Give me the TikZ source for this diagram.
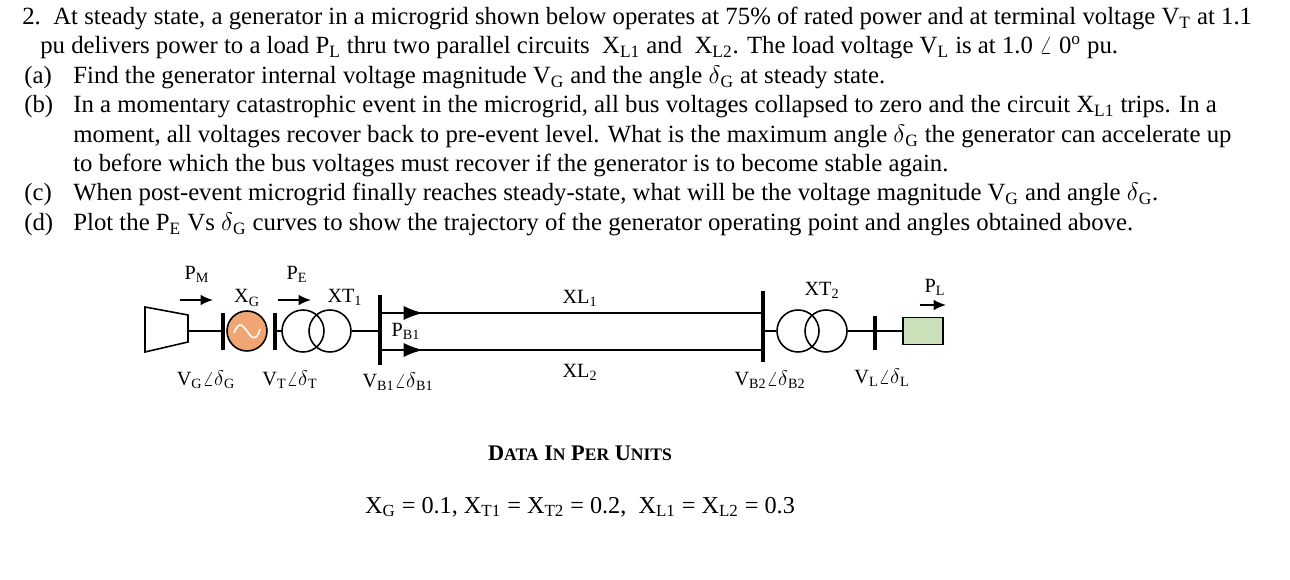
\documentclass[tikz,border=0pt]{standalone}
\usepackage{fontspec}
\setmainfont{Liberation Serif}
\usetikzlibrary{arrows.meta}
\newcommand{\sbs}[1]{\textsubscript{#1}}
\newcommand{\ang}{$\angle$}
\newcommand{\dl}{$\delta$}
\begin{document}
\begin{tikzpicture}[x=0.02cm,y=-0.02cm,
  txt/.style={anchor=base west,inner sep=0,font=\fontsize{14.1}{16}\selectfont},
  lab/.style={inner sep=0,font=\fontsize{11.5}{13}\selectfont},
  bus/.style={line width=2.6pt},
  wire/.style={line width=0.9pt},
  parr/.style={-{Latex[length=7pt,width=6pt]},line width=0.9pt}]
\useasboundingbox (0,0) rectangle (1290,580);
\node[txt] (l1) at (22,25) {2.\ \ At steady state, a generator in a microgrid shown below operates at 75\% of rated power and at terminal voltage V\sbs{T} at 1.1};
\node[txt] (l2) at (40,54) {pu delivers power to a load P\sbs{L} thru two parallel circuits \ X\sbs{L1} and \ X\sbs{L2}. The load voltage V\sbs{L} is at 1.0 \ang\ 0\textsuperscript{o} pu.};
\node[txt] (l3) at (24,84) {(a)};
\node[txt] (l3b) at (73,84) {Find the generator internal voltage magnitude V\sbs{G} and the angle \dl\sbs{G} at steady state.};
\node[txt] (l4) at (24,113) {(b)};
\node[txt] (l4b) at (73,113) {In a momentary catastrophic event in the microgrid, all bus voltages collapsed to zero and the circuit X\sbs{L1} trips. In a};
\node[txt] (l5) at (73,143) {moment, all voltages recover back to pre-event level. What is the maximum angle \dl\sbs{G} the generator can accelerate up};
\node[txt] (l6) at (73,172) {to before which the bus voltages must recover if the generator is to become stable again.};
\node[txt] (l7) at (24,201) {(c)};
\node[txt] (l7b) at (73,201) {When post-event microgrid finally reaches steady-state, what will be the voltage magnitude V\sbs{G} and angle \dl\sbs{G}.};
\node[txt] (l8) at (24,231) {(d)};
\node[txt] (l8b) at (73,231) {Plot the P\sbs{E} Vs \dl\sbs{G} curves to show the trajectory of the generator operating point and angles obtained above.};
% diagram
\draw[wire] (145,307) -- (188,315) -- (188,342) -- (145,352) -- cycle;
\coordinate (tm) at (188,331);
\coordinate (b1) at (223,331);
\draw[wire] (tm) -- (b1);
\draw[bus] (223,313) -- (223,350);
\node[circle,draw,line width=0.9pt,fill={rgb,255:red,240;green,165;blue,115},minimum size=0.8cm,inner sep=0] (gen) at (247,331) {};
\draw[white,line width=0.9pt] (234,333) .. controls (240,318) and (244,328) .. (247,331) .. controls (250,336) and (256,344) .. (260,329);
\draw[bus] (275,313) -- (275,350);
\draw[wire] (275,331) -- (282,331);
\node[circle,draw,line width=0.9pt,minimum size=0.84cm,inner sep=0] (t1a) at (303,331) {};
\node[circle,draw,line width=0.9pt,minimum size=0.84cm,inner sep=0] (t1b) at (330,331) {};
\draw[wire] (t1b.east) -- (380,331);
\draw[bus] (380,295) -- (380,365);
\coordinate (b1u) at (380,313); \coordinate (b1d) at (380,350);
\coordinate (b2u) at (763,313); \coordinate (b2d) at (763,350);
\draw[wire] (b1u) -- (b2u);
\draw[wire] (b1d) -- (b2d);
\draw[-{Latex[length=11pt,width=8pt]},line width=0.9pt] (380,313) -- (423,313);
\draw[-{Latex[length=11pt,width=8pt]},line width=0.9pt] (380,350) -- (423,350);
\draw[bus] (763,291) -- (763,362);
\node[circle,draw,line width=0.9pt,minimum size=0.84cm,inner sep=0] (t2a) at (798,331) {};
\node[circle,draw,line width=0.9pt,minimum size=0.84cm,inner sep=0] (t2b) at (826,331) {};
\draw[wire] (763,331) -- (t2a.west);
\draw[wire] (t2b.east) -- (875,331);
\draw[bus] (875,316) -- (875,350);
\node[draw,line width=0.9pt,fill={rgb,255:red,201;green,224;blue,184},minimum width=0.8cm,minimum height=0.54cm,inner sep=0] (load) at (923,331) {};
\draw[wire] (875,331) -- (load.west);
% arrows
\draw[parr] (180,300) -- (213,300);
\draw[parr] (278,300) -- (311,300);
\draw[parr] (920,305) -- (946,305);
% labels
\node[lab] (pm) at (197,274) {P\sbs{M}};
\node[lab] (xg) at (247,298) {X\sbs{G}};
\node[lab] (pe) at (297,274) {P\sbs{E}};
\node[lab] (xt1) at (345,297) {XT\sbs{1}};
\node[lab] (pb1) at (406,331) {P\sbs{B1}};
\node[lab] (vg) at (206,380) {V\sbs{G}\ang\dl\sbs{G}};
\node[lab] (vt) at (290,380) {V\sbs{T}\ang\dl\sbs{T}};
\node[lab] (vb1) at (398,382) {V\sbs{B1}\ang\dl\sbs{B1}};
\node[lab] (xl1) at (580,298) {XL\sbs{1}};
\node[lab] (xl2) at (580,372) {XL\sbs{2}};
\node[lab] (xt2) at (822,290) {XT\sbs{2}};
\node[lab] (vb2) at (770,380) {V\sbs{B2}\ang\dl\sbs{B2}};
\node[lab] (vl) at (882,378) {V\sbs{L}\ang\dl\sbs{L}};
\node[lab] (pl) at (935,287) {P\sbs{L}};
\node[inner sep=0,font=\fontsize{12.7}{14}\selectfont\bfseries] (data) at (580,453) {D{\fontsize{10}{12}\selectfont ATA} I{\fontsize{10}{12}\selectfont N} P{\fontsize{10}{12}\selectfont ER} U{\fontsize{10}{12}\selectfont NITS}};
\node[inner sep=0,font=\fontsize{13.8}{15}\selectfont] (eq) at (580,507) {X\sbs{G} = 0.1, X\sbs{T1} = X\sbs{T2} = 0.2, \ X\sbs{L1} = X\sbs{L2} = 0.3};
\end{tikzpicture}
\end{document}
